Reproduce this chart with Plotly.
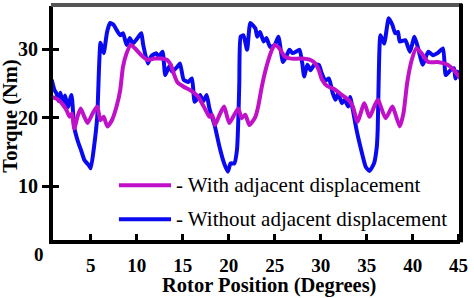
import plotly.graph_objects as go

# Rotor position (degrees) and torque (Nm) – without adjacent displacement
pos_without = [0.75, 1.05, 1.28, 1.5, 1.7, 1.95, 2.2, 2.5, 2.9, 3.2, 3.6, 3.95, 4.3, 4.6, 4.8, 5.0,
               5.35, 5.7, 5.9, 6.06, 6.4, 6.77, 7.1, 7.5, 7.8, 8.2, 8.5, 8.9, 9.25, 9.6, 10.3, 10.5,
               10.7, 11.2, 11.55, 12.1, 12.4, 12.8, 13.1, 13.5, 13.85, 14.4, 14.7, 15.1, 15.6, 16.0,
               16.3, 16.9, 17.2, 17.6, 17.9, 18.5, 19.0, 19.5, 19.9, 20.2, 20.6, 20.9, 21.05, 21.15,
               21.3, 21.6, 22.0, 22.35, 22.9, 23.1, 23.4, 23.8, 24.1, 24.5, 25.0, 25.4, 25.9, 26.25,
               26.6, 26.95, 27.3, 27.7, 28.0, 28.2, 28.55, 28.9, 29.3, 29.8, 30.1, 30.5, 30.9, 31.3,
               31.6, 31.9, 32.3, 32.6, 33.0, 33.2, 33.5, 33.9, 34.4, 34.9, 35.3, 35.8, 36.1, 36.2,
               36.3, 36.5, 36.9, 37.4, 37.8, 38.1, 38.4, 38.6, 39.2, 39.7, 40.2, 40.6, 41.1, 41.7,
               42.2, 42.7, 43.3, 43.6, 44.1, 44.5, 44.65, 45.0]
torque_without = [25.5, 24.0, 23.5, 22.4, 23.6, 22.0, 23.2, 21.5, 23.3, 18.6, 16.5, 15.2, 13.8, 13.3, 13.0, 12.6,
                  15.7, 20.1, 27.4, 30.9, 29.4, 32.5, 33.8, 33.5, 32.8, 32.0, 32.3, 30.6, 31.6, 30.8, 32.0, 32.3,
                  30.6, 27.9, 28.9, 29.4, 28.9, 29.6, 26.2, 27.4, 26.7, 27.4, 27.9, 25.5, 25.2, 25.7,
                  22.3, 23.3, 22.3, 23.3, 21.3, 18.7, 15.7, 13.3, 12.1, 13.3, 13.3, 15.3, 20.0, 25.0,
                  31.8, 32.0, 29.9, 33.8, 33.0, 31.8, 32.5, 31.1, 31.6, 30.3, 30.6, 31.8, 28.1, 28.9,
                  29.9, 29.4, 29.6, 29.9, 27.9, 26.0, 27.7, 26.9, 27.7, 27.7, 26.5, 25.4, 25.7, 23.6,
                  22.6, 23.5, 22.1, 22.6, 21.6, 23.0, 21.1, 18.2, 15.3, 12.8, 12.2, 13.3, 15.7, 18.2,
                  25.0, 32.0, 30.8, 34.5, 33.5, 32.3, 32.5, 31.1, 31.3, 29.6, 31.8, 30.1, 27.7, 29.6,
                  29.1, 29.4, 30.1, 26.2, 26.9, 27.2, 25.7, 26.9]

# With adjacent displacement
pos_with = [0.75, 1.45, 2.0, 2.35, 2.7, 2.95, 3.2, 3.55, 3.9, 4.3, 4.65, 5.2, 5.7, 6.05, 6.4, 6.8, 7.3,
            7.8, 8.2, 8.5, 8.9, 9.35, 9.8, 10.5, 11.2, 11.9, 12.6, 13.3, 13.7, 14.0, 14.4, 15.1, 15.8,
            16.3, 16.7, 17.0, 17.6, 17.9, 18.2, 18.5, 19.0, 19.5, 20.05, 20.6, 21.05, 21.4, 21.8,
            22.25, 22.9, 23.2, 23.6, 24.1, 24.7, 25.0, 25.5, 26.1, 26.8, 27.85, 28.9, 29.4, 29.8,
            30.15, 30.7, 31.4, 32.3, 33.0, 33.5, 34.0, 34.75, 35.3, 36.2, 37.05, 37.8, 38.1, 38.6,
            39.0, 39.4, 39.9, 40.4, 40.95, 41.7, 42.7, 43.8, 44.5, 45.2]
torque_with = [23.0, 22.6, 21.8, 21.1, 20.1, 20.6, 18.4, 20.1, 21.3, 20.1, 19.2, 20.6, 21.6, 19.6, 20.1, 18.7, 19.6,
               21.6, 24.0, 27.4, 29.4, 30.6, 30.1, 29.1, 28.4, 28.6, 28.6, 28.4, 27.7, 26.5, 25.2, 24.5, 24.0,
               23.5, 23.0, 22.3, 20.8, 20.1, 20.4, 18.9, 20.4, 21.6, 19.2, 20.4, 21.3, 19.9, 20.4,
               18.9, 20.1, 21.6, 24.5, 27.4, 29.9, 30.6, 30.1, 28.9, 28.6, 28.6, 28.4, 27.9, 26.9,
               25.5, 24.6, 24.2, 23.3, 22.6, 21.6, 19.4, 22.1, 20.1, 22.6, 19.9, 21.6, 20.6, 18.7,
               20.6, 25.0, 28.4, 30.1, 29.4, 28.1, 28.1, 27.7, 26.9, 25.7]

x_ticks = [5, 10, 15, 20, 25, 30, 35, 40, 45]
y_ticks = [10, 20, 30]
labels = ["- With adjacent displacement", "- Without adjacent displacement"]
colors = ["#C010C8", "#0A0AF0"]

SERIF = "Liberation Serif"

fig = go.Figure()
fig.add_trace(go.Scatter(x=pos_without, y=torque_without, mode="lines",
                         line=dict(color=colors[1], width=4, shape="spline", smoothing=0.5),
                         showlegend=False, hoverinfo="skip"))
fig.add_trace(go.Scatter(x=pos_with, y=torque_with, mode="lines",
                         line=dict(color=colors[0], width=4, shape="spline", smoothing=0.6),
                         showlegend=False, hoverinfo="skip"))
fig.add_trace(go.Scatter(x=[None], y=[None], yaxis="y2", showlegend=False, hoverinfo="skip"))

xr = [0.89, 45.15]
yr = [2.12, 36.28]

fig.update_layout(
    width=474, height=298,
    margin=dict(l=53, r=7, t=6, b=58),
    paper_bgcolor="white", plot_bgcolor="white",
    font=dict(family=SERIF, color="black"),
    xaxis=dict(range=xr, tickvals=x_ticks, ticks="inside", ticklen=6, tickwidth=3, tickcolor="black",
               showline=True, linewidth=4, linecolor="black", mirror=False, showgrid=False, zeroline=False,
               tickfont=dict(family=SERIF, size=19, color="black", weight="bold"), ticklabelstandoff=5,
               ticklabeloverflow="allow"),
    yaxis=dict(range=yr, tickvals=y_ticks, ticks="outside", ticklen=7, tickwidth=3, tickcolor="black",
               showline=True, linewidth=4, linecolor="black", showgrid=False, zeroline=False,
               tickfont=dict(family=SERIF, size=20, color="black", weight="bold")),
    yaxis2=dict(range=yr, tickvals=y_ticks, overlaying="y", side="left", anchor="x", ticks="inside",
                ticklen=6, tickwidth=3, tickcolor="black", showticklabels=False, showline=False,
                showgrid=False, zeroline=False),
)

# top (gray) and right (black) frame lines
fig.add_shape(type="line", xref="paper", yref="paper", x0=-0.005, x1=1.005, y0=1, y1=1,
              ysizemode="pixel", yanchor=1, line=dict(color="#555555", width=4))
fig.add_shape(type="line", xref="paper", yref="paper", x0=1, x1=1, y0=-0.01, y1=1.01,
              xsizemode="pixel", xanchor=1, line=dict(color="black", width=4))

# manual legend
leg_y = [0.234, 0.089]
for i in range(2):
    fig.add_shape(type="line", xref="paper", yref="paper", x0=0.162, x1=0.290, y0=leg_y[i], y1=leg_y[i],
                  line=dict(color=colors[i], width=4))
    fig.add_annotation(xref="paper", yref="paper", x=0.298, y=leg_y[i], xanchor="left", yanchor="middle",
                       text=labels[i], showarrow=False, font=dict(family=SERIF, size=21, color="black"))

fig.add_annotation(xref="paper", yref="paper", x=0.531, y=-0.195, xanchor="center", yanchor="middle",
                   text="<b>Rotor Position (Degrees)</b>", showarrow=False,
                   font=dict(family=SERIF, size=20.5, color="black"))
fig.add_annotation(xref="paper", yref="paper", x=-0.104, y=0.53, xanchor="center", yanchor="middle",
                   text="<b>Torque (Nm)</b>", textangle=-90, showarrow=False,
                   font=dict(family=SERIF, size=20.5, color="black"))
fig.add_annotation(xref="paper", yref="paper", x=-0.034, y=-0.064, xanchor="center", yanchor="middle",
                   text="<b>0</b>", showarrow=False, font=dict(family=SERIF, size=19, color="black"))

fig.write_html("out.html")
